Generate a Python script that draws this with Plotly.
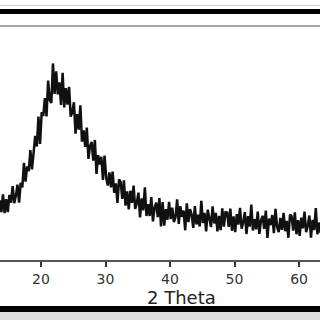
import plotly.graph_objects as go

# 2-theta sampling grid (start, step) and intensities
theta_start = 13.6
theta_step = 0.25
intensity = [
    25.5, 20.5, 28, 20, 26, 20.5, 27.8, 24.5, 31.6, 24.3,
    27.5, 32.2, 24.5, 33, 31, 41.5, 33.5, 40, 38, 47,
    38.7, 47.7, 53, 48.5, 61.3, 49.6, 63.1, 61.6, 69.2, 61.4,
    76.7, 68.4, 67.1, 84, 71, 80.6, 70.8, 75.9, 66.3, 80,
    65.2, 73.5, 66.4, 74, 61.3, 63.3, 67.4, 54, 62.3, 55.7,
    66.1, 50.6, 55.4, 48.3, 56.6, 43.2, 48.7, 50.5, 42.5, 51.3,
    36.8, 44.8, 40.8, 44.1, 34.2, 44.6, 35.2, 31.8, 37.4, 31,
    37.8, 28.7, 32.8, 24.4, 34.5, 33.3, 26.1, 34, 23.2, 29.3,
    21.6, 29.6, 24.4, 31.8, 21.8, 24.4, 28.8, 18.2, 26.3, 21.2,
    31.1, 18.8, 23.9, 18.8, 26.9, 16.5, 22.3, 24.5, 18.3, 26.5,
    14.3, 24.7, 14.7, 21.7, 17.2, 24.8, 17.5, 22.4, 16.2, 18.3,
    25.9, 15.4, 23, 18.4, 21.1, 12.7, 24.2, 16.2, 21.7, 19.4,
    13.7, 23, 15.2, 19.4, 14.3, 25.3, 15.8, 20.1, 12.2, 21.5,
    16.9, 14.1, 22.9, 15.6, 20.1, 12.2, 18.9, 12.8, 22.1, 14.3,
    20.4, 20.3, 14.2, 22, 12.5, 18.6, 11.9, 19.6, 15.1, 22.3,
    13.4, 16.1, 20.5, 11.1, 18.8, 14.3, 23.7, 12.6, 17.5, 13.1,
    20.7, 11.2, 16.8, 18.9, 13.3, 21.1, 9.4, 17.7, 14.9, 19.2,
    11.5, 21.9, 14.1, 11.9, 18, 12.9, 20.1, 12.3, 16.7, 9.5,
    19.4, 18.8, 12.6, 20.4, 11, 17, 10.3, 18.1, 13.5, 20.7,
    11.9, 14.5, 19, 9.6, 17.2, 12.8, 22.2, 11, 16, 11.5,
]
two_theta = [round(theta_start + theta_step * i, 3) for i in range(len(intensity))]

x_ticks = [20, 30, 40, 50, 60]
x_title = "2 Theta"

fig = go.Figure()
fig.add_trace(go.Scatter(
    x=two_theta, y=intensity, mode="lines",
    line=dict(color="#111111", width=2.5),
    hoverinfo="skip", showlegend=False,
))

fig.update_layout(
    width=320, height=320,
    margin=dict(l=0, r=0, t=26, b=60, pad=0),
    paper_bgcolor="white", plot_bgcolor="white",
    xaxis=dict(
        range=[13.64, 63.25], tickvals=x_ticks, ticktext=[str(v) for v in x_ticks],
        showgrid=False, zeroline=False, showline=True, linecolor="#555555", linewidth=1.5,
        ticks="outside", ticklen=5, tickwidth=1.5, tickcolor="#333333",
        tickfont=dict(family="DejaVu Sans", size=14, color="#333333"),
    ),
    yaxis=dict(range=[0, 100], visible=False, fixedrange=True),
    annotations=[
        dict(text=x_title, xref="paper", yref="paper", x=0.566, y=-0.16,
             xanchor="center", yanchor="middle", showarrow=False,
             font=dict(family="DejaVu Sans", size=18, color="#222222")),
    ],
    shapes=[
        # top border of plot box
        dict(type="line", xref="paper", yref="paper", x0=0, x1=1, y0=1, y1=1,
             line=dict(color="#8a8a8a", width=1.5)),
        # outer frame bands
        dict(type="rect", xref="paper", yref="paper", x0=0, x1=1, y0=1.0513, y1=1.0726,
             fillcolor="black", line=dict(width=0)),
        dict(type="line", xref="paper", yref="paper", x0=0, x1=1, y0=1.088, y1=1.088,
             line=dict(color="#c8c8c8", width=1)),
        dict(type="rect", xref="paper", yref="paper", x0=0, x1=1, y0=-0.2222, y1=-0.1966,
             fillcolor="black", line=dict(width=0)),
        dict(type="rect", xref="paper", yref="paper", x0=0, x1=1, y0=-0.26, y1=-0.2222,
             fillcolor="#dcdcdc", line=dict(width=0)),
    ],
)

fig.write_html("out.html")
